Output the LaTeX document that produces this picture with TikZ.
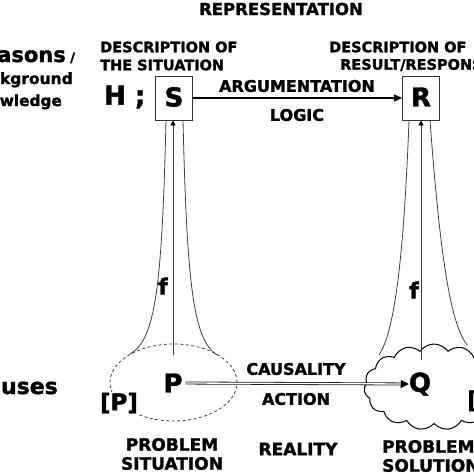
\documentclass[tikz,border=0pt]{standalone}
\usepackage{fontspec}
\setmainfont{DejaVu Sans}[BoldFeatures={FakeBold=1.6}]
\usetikzlibrary{arrows.meta,shapes.symbols,shapes.geometric}
\begin{document}
\begin{tikzpicture}[x=1pt,y=-1pt,
  lbl/.style={font=\bfseries\fontsize{#1}{#1}\selectfont, inner sep=0pt},
  lbl/.default=16,
  letterbox/.style={draw=black!80, line width=0.8pt, minimum width=37pt, minimum height=44pt, inner sep=0pt},
  funnel/.style={draw=black!75, line width=0.8pt},
  mainarrow/.style={draw=black, line width=1.2pt, -{Triangle[length=8pt,width=7pt]}},
  uparrow/.style={draw=black!75, line width=0.8pt, -{Triangle[length=5pt,width=5pt,color=black]}},
  dblarrow/.style={draw=black!90, double=white, double distance=1.3pt, line width=0.8pt, -{Triangle[length=8pt,width=8pt,color=black]}},
]
\useasboundingbox (0,0) rectangle (474,474);
\clip (0,0) rectangle (474,474);

% top texts
\node[lbl=16.5] (rep) at (281,9) {REPRESENTATION};
\node[lbl=14.5, anchor=west, align=left] (desc1a) at (100,47) {DESCRIPTION OF};
\node[lbl=14.5, anchor=west] (desc1b) at (100,65) {THE SITUATION};
\node[lbl=14.5, anchor=west] (desc2a) at (329,47) {DESCRIPTION OF};
\node[lbl=14.5, anchor=west] (desc2b) at (340,65) {RESULT/RESPONSE};

% left texts
\node[lbl=21, anchor=base east] (reas) at (66,62) {Reasons};
\node[lbl=13, anchor=base west] (slash) at (70,62) {/};
\node[lbl=15.5, anchor=base east] (bg) at (73,84) {Background};
\node[lbl=15.3, anchor=base east] (kn) at (62,106) {knowledge};
\node[lbl=22, anchor=base east] (caus) at (58,394) {Causes};

% boxes
\node[letterbox] (S) at (174,98) {};
\node[lbl=26] (Slbl) at (174,97) {S};
\node[letterbox] (R) at (421,98) {};
\node[lbl=26] (Rlbl) at (421,97) {R};
\node[lbl=26, anchor=west] (H) at (104,97) {H\hspace{9pt};};

\draw[mainarrow] (S.east) -- (R.west);
\node[lbl=16] (arg) at (297,86) {ARGUMENTATION};
\node[lbl=16] (logic) at (297,115) {LOGIC};

% lower level
\node[draw=black!75, dashed, dash pattern=on 3pt off 2.5pt, line width=0.8pt, ellipse, minimum width=127pt, minimum height=77pt] (ell) at (173.5,382.5) {};
\node[cloud, draw=black, line width=1pt, cloud puffs=15, cloud puff arc=110, aspect=1.6, minimum width=140pt, minimum height=86pt, inner sep=0pt] (cl) at (434,387) {};
\node[lbl=26] (P) at (173,383) {P};
\node[lbl=26] (Q) at (420,384) {Q};
\node[lbl=23, fill=white, inner sep=1pt] (Pb) at (119,403) {[P]};
\node[lbl=23, fill=white, inner sep=1pt, anchor=west] (Qb) at (466,401) {[Q]};

\draw[dblarrow] (P.east) ++(3,0) coordinate (pstart) -- (Q.west);
\node[lbl=16] (causal) at (296,369) {CAUSALITY};
\node[lbl=16] (action) at (296,399) {ACTION};
\node[lbl=17] (real) at (298,449) {REALITY};
\node[lbl=17, align=center] (ps) at (172,454) {PROBLEM\\[2pt]SITUATION};
\node[lbl=17, anchor=west, align=left] (psol) at (382,456) {PROBLEM\\[2pt]SOLUTION};

% funnels
\coordinate (l1) at (166,120); \coordinate (l2) at (183,120);
\coordinate (l1e) at (130,354); \coordinate (l2e) at (217,355);
\draw[funnel] (l1) .. controls (162,290) and (155,340) .. (l1e);
\draw[funnel] (l2) .. controls (187,290) and (194,340) .. (l2e);
\coordinate (lm) at (173,355);
\draw[uparrow] (lm) -- (S.south -| lm);

\coordinate (r1) at (409,120); \coordinate (r2) at (430,120);
\coordinate (r1e) at (379,355); \coordinate (r2e) at (467,345);
\draw[funnel] (r1) .. controls (403,280) and (392,335) .. (r1e);
\draw[funnel] (r2) .. controls (441,270) and (452,325) .. (r2e);
\coordinate (rm) at (421,360);
\draw[uparrow] (rm) -- (R.south -| rm);

\node[lbl=22] (f1) at (163,286) {f};
\node[lbl=22] (f2) at (414,290) {f};
\end{tikzpicture}
\end{document}
